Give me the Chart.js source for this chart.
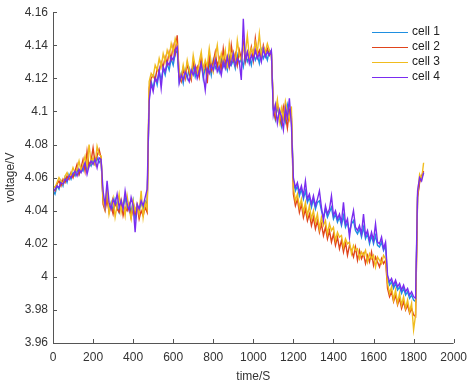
<!DOCTYPE html>
<html>
<head>
<title>Cell voltage vs time</title>
<script src="https://cdn.jsdelivr.net/npm/chart.js"></script>
<style>
  html, body { margin: 0; padding: 0; background: #fff; }
  #wrap { width: 474px; height: 386px; }
</style>
</head>
<body>
<div id="wrap"><canvas id="voltChart" width="474" height="386"></canvas></div>
<script>
// sample times in seconds
const times = [
  0,10,20,30,40,50,60,70,80,90,100,110,120,130,140,150,160,170,180,190,
  200,210,220,230,240,250,260,270,280,290,300,310,320,330,340,350,360,370,380,390,
  400,410,420,430,440,450,460,470,480,490,500,510,520,530,540,550,560,570,580,590,
  600,610,620,630,640,650,660,670,680,690,700,710,720,730,740,750,760,770,780,790,
  800,810,820,830,840,850,860,870,880,890,900,910,920,930,940,950,960,970,980,990,
  1000,1010,1020,1030,1040,1050,1060,1070,1080,1090,1100,1110,1120,1130,1140,1150,1160,1170,1180,1190,
  1200,1210,1220,1230,1240,1250,1260,1270,1280,1290,1300,1310,1320,1330,1340,1350,1360,1370,1380,1390,
  1400,1410,1420,1430,1440,1450,1460,1470,1480,1490,1500,1510,1520,1530,1540,1550,1560,1570,1580,1590,
  1600,1610,1620,1630,1640,1650,1660,1670,1680,1690,1700,1710,1720,1730,1740,1750,1760,1770,1780,1790,
  1800,1810,1820,1830,1840,1850
];

// cell voltages in mV
const cell1 = [
  4052,4050,4055,4053,4058,4055,4060,4057,4062,4059,4063,4061,4065,4062,4066,4064,4068,4065,4069,4067,4071,4068,4072,4069,4071,
  4046,4042,4049,4041,4045,4040,4047,4043,4039,4046,4042,4048,4041,4044,4039,4046,4035,4043,4040,4045,4041,4046,4044,
  4108,4118,4114,4121,4116,4124,4119,4126,4122,4129,4125,4132,4128,4135,4137,
  4118,4123,4117,4125,4120,4126,4122,4128,4121,4126,4123,4130,4120,4127,4124,4129,4122,4131,4126,4129,
  4124,4132,4127,4130,4125,4133,4128,4131,4126,4134,4129,4132,4127,4135,4130,4133,4128,4136,4131,4134,
  4129,4137,4132,4135,4131,4137,4136,
  4101,4095,4103,4097,4091,4100,4094,4104,4098,4096,
  4058,4052,4055,4049,4053,4047,4052,4045,4048,4042,4047,4041,4045,4046,4040,4036,4041,4036,4039,4042,
  4035,4038,4033,4036,4031,4037,4030,4033,4027,4032,4034,4028,4026,4029,4024,4030,4023,4026,4020,4025,
  4020,4025,4019,4018,4021,4016,4019,
  3999,3995,3997,3993,3996,3992,3994,3990,3993,3989,3991,3987,3989,3986,3985,
  4049,4058,4060,4063
];
const cell2 = [
  4053,4052,4056,4058,4055,4059,4057,4061,4059,4063,4060,4064,4068,4062,4066,4071,4064,4076,4067,4070,4078,4069,4073,4077,4072,
  4044,4040,4047,4039,4043,4038,4045,4041,4039,4046,4037,4042,4040,4044,4036,4041,4038,4043,4035,4040,4037,4042,4039,
  4114,4120,4122,4119,4126,4124,4130,4127,4133,4129,4136,4132,4140,4135,4146,
  4121,4118,4126,4120,4129,4123,4119,4131,4124,4127,4121,4133,4126,4129,4117,4134,4125,4130,4136,4127,
  4132,4125,4138,4129,4133,4127,4140,4131,4135,4128,4137,4132,4142,4130,4136,4133,4139,4131,4144,4134,
  4137,4132,4140,4135,4138,4134,4136,
  4102,4096,4105,4099,4093,4103,4098,4090,4101,4097,
  4050,4043,4047,4039,4044,4036,4041,4034,4038,4031,4036,4029,4034,4027,4032,4025,4030,4023,4028,4021,
  4026,4019,4024,4017,4022,4015,4021,4013,4019,4016,4012,4018,4010,4016,4011,4014,4008,4013,4009,4015,
  4007,4012,4009,4006,4011,4008,4010,
  3993,3988,3991,3985,3989,3983,3987,3981,3985,3980,3983,3978,3981,3977,3976,
  4048,4057,4061,4064
];
const cell3 = [
  4055,4054,4057,4060,4058,4056,4061,4063,4060,4062,4066,4063,4065,4070,4064,4068,4073,4066,4080,4069,4072,4068,4079,4074,4073,
  4046,4041,4055,4038,4044,4048,4036,4043,4050,4039,4045,4037,4049,4041,4035,4046,4040,4044,4038,4052,4036,4045,4041,
  4118,4123,4121,4128,4125,4132,4127,4135,4130,4137,4133,4141,4136,4144,4140,
  4124,4120,4128,4122,4131,4125,4121,4134,4127,4123,4130,4136,4125,4131,4127,4138,4129,4124,4133,4140,
  4128,4135,4130,4137,4126,4141,4132,4136,4129,4143,4134,4131,4139,4135,4146,4133,4138,4135,4142,4136,
  4147,4134,4139,4136,4141,4137,4135,
  4105,4099,4107,4094,4102,4096,4106,4100,4095,4103,
  4054,4046,4050,4042,4047,4039,4045,4037,4043,4035,4040,4033,4038,4029,4036,4031,4034,4026,4032,4028,
  4030,4022,4027,4024,4025,4018,4023,4020,4021,4014,4019,4016,4017,4011,4015,4013,4016,4009,4014,4011,
  4013,4006,4012,4010,4008,4013,4011,
  3996,3990,3994,3986,3992,3984,3990,3983,3988,3981,3986,3979,3984,3968,3977,
  4050,4062,4059,4069
];
const cell4 = [
  4051,4053,4055,4054,4057,4056,4059,4058,4061,4060,4062,4064,4061,4065,4063,4066,4069,4062,4067,4070,4068,4071,4066,4072,4071,
  4052,4043,4058,4045,4041,4047,4044,4050,4042,4046,4041,4052,4044,4040,4048,4043,4027,4044,4041,4046,4043,4048,4053,
  4106,4117,4112,4120,4118,4125,4114,4127,4124,4130,4128,4133,4131,4137,4139,
  4117,4122,4119,4124,4121,4118,4125,4122,4127,4120,4124,4129,4122,4113,4126,4123,4128,4125,4131,4124,
  4127,4122,4130,4126,4133,4127,4129,4135,4128,4132,4130,4119,4156,4131,4136,4129,4134,4131,4137,4132,
  4135,4130,4138,4133,4136,4134,4137,
  4098,4104,4093,4101,4097,4089,4102,4096,4108,4092,
  4060,4054,4057,4051,4055,4049,4058,4047,4050,4044,4049,4043,4047,4052,4042,4034,4043,4038,4041,4049,
  4037,4040,4035,4038,4033,4045,4032,4035,4024,4034,4040,4030,4028,4031,4026,4038,4025,4028,4022,4027,
  4022,4032,4021,4020,4024,4017,4021,
  4001,3997,3999,3995,3998,3994,3996,3992,3995,3991,3993,3989,3991,3988,3987,
  4052,4060,4058,4063
];

const cellNames = ['cell 1', 'cell 2', 'cell 3', 'cell 4'];
const cellColors = ['#1f8fe0', '#e0441c', '#f0bc1e', '#7a2cf0'];
const allCells = [cell1, cell2, cell3, cell4];

const axisColor = '#555';
const textColor = '#333';
const fontFamily = '"Liberation Sans", Arial, sans-serif';

// inward ticks, axis lines, titles and the legend box
const decorations = {
    id: 'decorations',
    afterDraw(chart) {
        const { ctx, chartArea, scales } = chart;
        const { left, right, top, bottom } = chartArea;
        ctx.save();
        ctx.strokeStyle = axisColor;
        ctx.lineWidth = 1;
        ctx.beginPath();
        ctx.moveTo(left + 0.5, top);
        ctx.lineTo(left + 0.5, bottom + 0.5);
        ctx.lineTo(right, bottom + 0.5);
        ctx.stroke();

        scales.x.ticks.forEach(t => {
            const px = Math.round(scales.x.getPixelForValue(t.value)) + 0.5;
            ctx.beginPath();
            ctx.moveTo(px, bottom);
            ctx.lineTo(px, bottom - 4);
            ctx.stroke();
        });
        scales.y.ticks.forEach(t => {
            const py = Math.round(scales.y.getPixelForValue(t.value)) + 0.5;
            ctx.beginPath();
            ctx.moveTo(left, py);
            ctx.lineTo(left + 4, py);
            ctx.stroke();
        });

        ctx.fillStyle = textColor;
        ctx.font = '12px ' + fontFamily;
        ctx.textAlign = 'center';
        ctx.textBaseline = 'middle';
        ctx.fillText('time/S', (left + right) / 2, 377);
        ctx.save();
        ctx.translate(11, (top + bottom) / 2);
        ctx.rotate(-Math.PI / 2);
        ctx.fillText('voltage/V', 0, 0);
        ctx.restore();

        // legend, top right inside the plot
        ctx.textAlign = 'left';
        ctx.fillStyle = '#222';
        cellNames.forEach((name, i) => {
            const y = 32 + i * 15;
            ctx.strokeStyle = cellColors[i];
            ctx.beginPath();
            ctx.moveTo(372, y + 0.5);
            ctx.lineTo(408, y + 0.5);
            ctx.stroke();
            ctx.fillText(name, 412, y);
        });
        ctx.restore();
    }
};

const ctx = document.getElementById('voltChart').getContext('2d');
new Chart(ctx, {
    type: 'line',
    data: {
        datasets: allCells.map((vals, i) => ({
            label: cellNames[i],
            data: vals.map((v, j) => ({ x: times[j], y: v / 1000 })),
            borderColor: cellColors[i],
            borderWidth: 1.4,
            pointRadius: 0,
            tension: 0,
            fill: false,
            order: 3 - i
        }))
    },
    options: {
        responsive: false,
        animation: false,
        devicePixelRatio: 1,
        layout: { padding: { top: 10, right: 18, bottom: 0, left: 0 } },
        scales: {
            x: {
                type: 'linear',
                min: 0,
                max: 2000,
                grid: { display: false, drawTicks: false },
                border: { display: false },
                ticks: {
                    stepSize: 200,
                    padding: 7,
                    color: textColor,
                    font: { family: fontFamily, size: 12 },
                    maxRotation: 0,
                    callback: v => String(v)
                },
                afterFit(scale) { scale.height = 43; }
            },
            y: {
                min: 3.96,
                max: 4.16,
                grid: { display: false, drawTicks: false },
                border: { display: false },
                ticks: {
                    stepSize: 0.02,
                    padding: 5,
                    color: textColor,
                    font: { family: fontFamily, size: 12 },
                    callback: v => String(+v.toFixed(2))
                },
                afterFit(scale) { scale.width = 53; }
            }
        },
        plugins: {
            legend: { display: false },
            tooltip: { enabled: false }
        }
    },
    plugins: [decorations]
});
</script>
</body>
</html>
